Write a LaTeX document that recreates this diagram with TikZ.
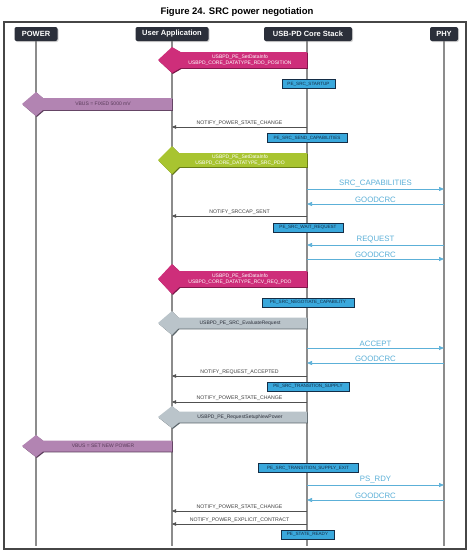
\documentclass[tikz,border=0pt]{standalone}
\usepackage{fontspec}
\setmainfont{Liberation Sans}
\usetikzlibrary{arrows.meta,shadows}
\definecolor{hdr}{RGB}{43,47,58}
\definecolor{mag}{RGB}{206,46,122}
\definecolor{magd}{RGB}{120,20,70}
\definecolor{grn}{RGB}{168,196,48}
\definecolor{grnd}{RGB}{95,115,20}
\definecolor{pur}{RGB}{178,132,178}
\definecolor{purd}{RGB}{90,60,90}
\definecolor{gry}{RGB}{186,196,202}
\definecolor{gryd}{RGB}{90,100,105}
\definecolor{stb}{RGB}{58,168,220}
\definecolor{stbd}{RGB}{20,45,70}
\definecolor{msg}{RGB}{92,176,216}
\definecolor{life}{RGB}{140,140,140}
\definecolor{ntf}{RGB}{80,80,80}
\definecolor{frm}{RGB}{70,70,70}
\newcommand{\bigarrow}[6]{% #1 style, #2 y, #3 x head, #4 x right, #5 body half, #6 head half
  \path[#1] (#4,#2-#5) -- ({#3+14*#5/#6},#2-#5) -- (#3,#2-#6) -- (#3-14,#2)
    -- (#3,#2+#6) -- ({#3+14*#5/#6},#2+#5) -- (#4,#2+#5) -- cycle;}
\begin{document}
\begin{tikzpicture}[x=1pt,y=-1pt,
  hdrbox/.style={fill=hdr, rounded corners=2pt, text=white,
    font=\bfseries\fontsize{7.5}{9}\selectfont, minimum height=14pt, inner sep=0pt,
    drop shadow={opacity=0.35,shadow xshift=1pt,shadow yshift=-1pt}},
  stbox/.style={fill=stb, draw=stbd, line width=0.6pt, text=stbd,
    font=\fontsize{4.6}{5}\selectfont, inner sep=0pt, minimum height=9pt},
  bigtxt/.style={font=\fontsize{5}{6.5}\selectfont, align=center, inner sep=0pt},
  lifeline/.style={draw=life, line width=1.1pt},
  notify/.style={draw=ntf, line width=0.5pt, -{Triangle[length=4pt,width=3.5pt]}},
  nlabel/.style={above, font=\fontsize{5.2}{6}\selectfont, text=ntf!80!black, inner sep=1.2pt},
  msgarr/.style={draw=msg, line width=0.7pt, -{Triangle[length=5pt,width=4pt]}},
  mlabel/.style={above, font=\fontsize{7.8}{9}\selectfont, text=msg, inner sep=1.5pt},
  magsh/.style={fill=magd, shift={(0.9,0.9)}}, magf/.style={fill=mag},
  grnsh/.style={fill=grnd, shift={(0.9,0.9)}}, grnf/.style={fill=grn},
  pursh/.style={fill=purd, shift={(0.9,0.9)}}, purf/.style={fill=pur},
  grysh/.style={fill=gryd, shift={(0.9,0.9)}}, gryf/.style={fill=gry}]
\useasboundingbox (0,0) rectangle (474,552);
\fill[white] (0,0) rectangle (474,552);
% title and frame
\node[font=\bfseries\fontsize{9.5}{11}\selectfont] (title) at (237,12) {Figure 24. SRC power negotiation};
\draw[frm, line width=1.2pt] (4,22) rectangle (466,549);
% lifelines
\path (36,546) coordinate (eP) (172,546) coordinate (eU) (307,546) coordinate (eC) (444,546) coordinate (eH);
\draw[lifeline] (36,34) -- (eP);
\draw[lifeline] (172,34) -- (eU);
\draw[lifeline] (307,34) -- (eC);
\draw[lifeline] (444,34) -- (eH);
% headers
\node[hdrbox, minimum width=43pt] (hP) at (36,34) {POWER};
\node[hdrbox, minimum width=73pt] (hU) at (172,34) {User Application};
\node[hdrbox, minimum width=88pt] (hC) at (308,34) {USB-PD Core Stack};
\node[hdrbox, minimum width=28pt] (hH) at (444,34) {PHY};
% 1 magenta
\bigarrow{magsh}{60}{172}{307}{8}{13}
\bigarrow{magf}{60}{172}{307}{8}{13}
\node[bigtxt, text=white] (a1) at (240,60) {USBPD\_PE\_SetDataInfo\\USBPD\_CORE\_DATATYPE\_RDO\_POSITION};
\node[stbox, minimum width=53pt] (s1) at (308.5,84) {PE\_SRC\_STARTUP};
% 2 purple
\bigarrow{pursh}{104}{36}{172}{6}{12}
\bigarrow{purf}{104}{36}{172}{6}{12}
\node[bigtxt, text=purd] (a2) at (103,104) {VBUS = FIXED 5000 mV};
% notify 1
\path (307,127) coordinate (c1) (172,127) coordinate (u1);
\draw[notify] (c1) -- node[nlabel] {NOTIFY\_POWER\_STATE\_CHANGE} (u1);
\node[stbox, minimum width=80pt] (s2) at (307,138) {PE\_SRC\_SEND\_CAPABILITIES};
% 3 green
\bigarrow{grnsh}{160}{172}{307}{7}{14}
\bigarrow{grnf}{160}{172}{307}{7}{14}
\node[bigtxt, text=white] (a3) at (240,160) {USBPD\_PE\_SetDataInfo\\USBPD\_CORE\_DATATYPE\_SRC\_PDO};
% messages
\path (307,189) coordinate (c2) (444,189) coordinate (p2);
\draw[msgarr] (c2) -- node[mlabel] {SRC\_CAPABILITIES} (p2);
\path (307,204) coordinate (c3) (444,204) coordinate (p3);
\draw[msgarr] (p3) -- node[mlabel] {GOODCRC} (c3);
\path (307,216) coordinate (c4) (172,216) coordinate (u4);
\draw[notify] (c4) -- node[nlabel] {NOTIFY\_SRCCAP\_SENT} (u4);
\node[stbox, minimum width=70pt] (s3) at (308,227.5) {PE\_SRC\_WAIT\_REQUEST};
\path (307,245) coordinate (c5) (444,245) coordinate (p5);
\draw[msgarr] (p5) -- node[mlabel] {REQUEST} (c5);
\path (307,259) coordinate (c6) (444,259) coordinate (p6);
\draw[msgarr] (c6) -- node[mlabel] {GOODCRC} (p6);
% 4 magenta
\bigarrow{magsh}{279}{172}{307}{8}{15}
\bigarrow{magf}{279}{172}{307}{8}{15}
\node[bigtxt, text=white] (a4) at (240,279) {USBPD\_PE\_SetDataInfo\\USBPD\_CORE\_DATATYPE\_RCV\_REQ\_PDO};
\node[stbox, minimum width=92pt] (s4) at (308,302.5) {PE\_SRC\_NEGOTIATE\_CAPABILITY};
% 5 gray
\bigarrow{grysh}{323}{172}{307}{5.5}{12}
\bigarrow{gryf}{323}{172}{307}{5.5}{12}
\node[bigtxt, text=hdr] (a5) at (240,323) {USBPD\_PE\_SRC\_EvaluateRequest};
\path (307,348) coordinate (c7) (444,348) coordinate (p7);
\draw[msgarr] (c7) -- node[mlabel] {ACCEPT} (p7);
\path (307,363) coordinate (c8) (444,363) coordinate (p8);
\draw[msgarr] (p8) -- node[mlabel] {GOODCRC} (c8);
\path (307,376) coordinate (c9) (172,376) coordinate (u9);
\draw[notify] (c9) -- node[nlabel] {NOTIFY\_REQUEST\_ACCEPTED} (u9);
\node[stbox, minimum width=82pt] (s5) at (308,386.5) {PE\_SRC\_TRANSITION\_SUPPLY};
\path (307,402) coordinate (c10) (172,402) coordinate (u10);
\draw[notify] (c10) -- node[nlabel] {NOTIFY\_POWER\_STATE\_CHANGE} (u10);
% 6 gray
\bigarrow{grysh}{417}{172}{307}{5.5}{11}
\bigarrow{gryf}{417}{172}{307}{5.5}{11}
\node[bigtxt, text=hdr] (a6) at (240,417) {USBPD\_PE\_RequestSetupNewPower};
% 7 purple
\bigarrow{pursh}{446}{36}{172}{5.5}{11}
\bigarrow{purf}{446}{36}{172}{5.5}{11}
\node[bigtxt, text=purd] (a7) at (103,446) {VBUS = SET NEW POWER};
\node[stbox, minimum width=100pt] (s6) at (308,468) {PE\_SRC\_TRANSITION\_SUPPLY\_EXIT};
\path (307,485) coordinate (c11) (444,485) coordinate (p11);
\draw[msgarr] (c11) -- node[mlabel] {PS\_RDY} (p11);
\path (307,500) coordinate (c12) (444,500) coordinate (p12);
\draw[msgarr] (p12) -- node[mlabel] {GOODCRC} (c12);
\path (307,511) coordinate (c13) (172,511) coordinate (u13);
\draw[notify] (c13) -- node[nlabel] {NOTIFY\_POWER\_STATE\_CHANGE} (u13);
\path (307,524) coordinate (c14) (172,524) coordinate (u14);
\draw[notify] (c14) -- node[nlabel] {NOTIFY\_POWER\_EXPLICIT\_CONTRACT} (u14);
\node[stbox, minimum width=53pt] (s7) at (307.5,534.5) {PE\_STATE\_READY};
\end{tikzpicture}
\end{document}
